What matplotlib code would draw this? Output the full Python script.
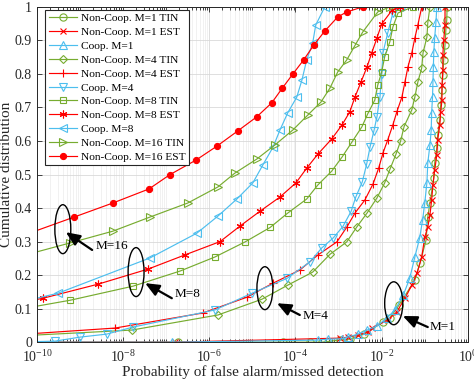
import numpy as np
import matplotlib
matplotlib.use('Agg')
import matplotlib.pyplot as plt
from matplotlib.patches import Ellipse
from matplotlib.ticker import LogLocator, LogFormatterMathtext, NullFormatter

plt.rcParams['font.family'] = ['Liberation Serif', 'DejaVu Serif']
plt.rcParams['mathtext.fontset'] = 'stix'

# x values are given as log10 exponents, y = cumulative distribution
m1_tin_e = [-10.5, -6.73, -4.29, -3.67, -3.39, -2.97, -2.74, -2.40, -1.97, -1.81, -1.60, -1.23, -1.11, -0.97,
            -0.93, -0.88, -0.84, -0.79, -0.77, -0.72, -0.70, -0.65, -0.63, -0.60, -0.58, -0.56, -0.53, -0.51,
            -0.49, -0.48]
m1_tin_y = [0.0, 0.0, 0.0, 0.0, 0.0, 0.006, 0.009, 0.024, 0.06, 0.072, 0.11, 0.185, 0.236, 0.304,
            0.373, 0.415, 0.448, 0.49, 0.534, 0.579, 0.618, 0.663, 0.707, 0.752, 0.797, 0.842, 0.887, 0.931,
            0.96, 1.0]

m1_est_e = [-10.5, -6.80, -2.97, -2.78, -2.55, -2.32, -2.23, -1.86, -1.65, -1.46, -1.30, -1.18, -1.07, -1.00,
            -0.93, -0.88, -0.84, -0.81, -0.77, -0.72, -0.70, -0.65, -0.63, -0.60, -0.60, -0.58, -0.58, -0.56,
            -0.53, -0.53]
m1_est_y = [0.0, 0.0, 0.012, 0.015, 0.021, 0.03, 0.042, 0.066, 0.09, 0.131, 0.17, 0.206, 0.254, 0.313,
            0.343, 0.379, 0.424, 0.469, 0.513, 0.558, 0.603, 0.648, 0.687, 0.722, 0.767, 0.812, 0.857, 0.90,
            0.946, 1.0]

coop_m1_e = [-10.5, -6.87, -3.48, -3.25, -2.92, -2.78, -2.55, -2.34, -2.11, -1.88, -1.69, -1.50, -1.35, -1.23,
             -1.12, -1.05, -1.00, -0.95, -0.93, -0.88, -0.85, -0.84, -0.82, -0.81, -0.80, -0.79, -0.77, -0.74,
             -0.72]
coop_m1_y = [0.0, 0.0, 0.006, 0.009, 0.01, 0.015, 0.024, 0.036, 0.048, 0.072, 0.096, 0.14, 0.19, 0.254,
             0.31, 0.364, 0.415, 0.475, 0.534, 0.588, 0.633, 0.684, 0.731, 0.776, 0.821, 0.866, 0.907, 0.955,
             1.0]

m4_tin_e = [-10.5, -7.80, -5.80, -4.78, -4.18, -3.60, -3.20, -2.81, -2.58, -2.34, -2.11, -1.93, -1.81, -1.67,
            -1.56, -1.48, -1.30, -1.23, -1.16, -1.07, -1.04, -0.95, -0.93, -0.88]
m4_tin_y = [0.018, 0.036, 0.081, 0.128, 0.170, 0.209, 0.262, 0.299, 0.343, 0.385, 0.43, 0.475, 0.515, 0.56,
            0.60, 0.643, 0.693, 0.731, 0.776, 0.818, 0.863, 0.91, 0.952, 1.0]

m4_est_e = [-10.5, -8.19, -6.15, -5.13, -4.52, -3.90, -3.48, -3.04, -2.81, -2.62, -2.39, -2.20, -2.07, -1.97,
            -1.86, -1.74, -1.64, -1.53, -1.46, -1.39, -1.30, -1.23, -1.16, -1.07]
m4_est_y = [0.022, 0.042, 0.087, 0.134, 0.176, 0.215, 0.26, 0.299, 0.343, 0.385, 0.424, 0.472, 0.519, 0.564,
            0.603, 0.648, 0.69, 0.731, 0.776, 0.821, 0.863, 0.907, 0.946, 1.0]

coop_m4_e = [-10.5, -9.58, -9.00, -8.38, -7.77, -5.87, -5.01, -4.20, -3.67, -3.39, -3.13, -2.90, -2.71, -2.60,
             -2.45, -2.35, -2.27, -2.18, -2.11, -2.04, -2.00, -1.97, -1.86, -1.74, -1.51]
coop_m4_y = [0.0, 0.003, 0.015, 0.024, 0.045, 0.096, 0.146, 0.19, 0.239, 0.281, 0.31, 0.345, 0.39, 0.433,
             0.478, 0.53, 0.582, 0.63, 0.672, 0.731, 0.80, 0.863, 0.922, 0.982, 1.0]

m8_tin_e = [-10.5, -9.23, -7.77, -6.68, -5.87, -5.17, -4.59, -4.18, -3.74, -3.48, -3.16, -2.92, -2.69, -2.46,
            -2.32, -2.16, -2.09, -2.00, -1.93, -1.81, -1.74, -1.62, -1.28]
m8_tin_y = [0.096, 0.125, 0.167, 0.212, 0.254, 0.299, 0.342, 0.385, 0.427, 0.469, 0.51, 0.552, 0.597, 0.642,
            0.682, 0.722, 0.767, 0.806, 0.851, 0.896, 0.94, 0.982, 1.0]

m8_est_e = [-10.5, -9.86, -8.58, -7.42, -6.57, -5.75, -5.29, -4.83, -4.36, -3.99, -3.74, -3.48, -3.16, -2.92,
            -2.74, -2.62, -2.48, -2.34, -2.23, -2.11, -2.00, -1.76, -1.58]
m8_est_y = [0.115, 0.131, 0.173, 0.218, 0.26, 0.30, 0.346, 0.39, 0.433, 0.475, 0.519, 0.561, 0.606, 0.648,
            0.687, 0.731, 0.776, 0.821, 0.863, 0.907, 0.949, 0.99, 1.0]

coop_m8_e = [-10.5, -9.51, -7.38, -6.29, -5.80, -5.36, -4.99, -4.76, -4.52, -4.36, -4.18, -3.97, -3.85, -3.74,
             -3.60, -3.53, -3.32]
coop_m8_y = [0.116, 0.146, 0.251, 0.325, 0.376, 0.427, 0.475, 0.528, 0.582, 0.633, 0.684, 0.731, 0.782, 0.842,
             0.893, 0.946, 1.0]

m16_tin_e = [-10.5, -9.23, -8.24, -7.38, -6.50, -5.80, -5.41, -4.90, -4.48, -4.06, -3.71, -3.41, -3.20, -3.02,
             -2.81, -2.62, -2.44, -2.09, -1.81]
m16_tin_y = [0.252, 0.296, 0.331, 0.373, 0.415, 0.463, 0.504, 0.546, 0.588, 0.633, 0.678, 0.716, 0.758, 0.806,
             0.842, 0.885, 0.925, 0.985, 1.0]

m16_est_e = [-10.5, -9.14, -8.24, -7.40, -6.91, -6.31, -5.82, -5.34, -4.90, -4.55, -4.31, -4.06, -3.81, -3.57,
             -3.32, -3.02, -2.81, -2.44]
m16_est_y = [0.31, 0.373, 0.415, 0.457, 0.50, 0.543, 0.585, 0.63, 0.672, 0.714, 0.757, 0.80, 0.842, 0.887,
             0.928, 0.97, 0.985, 1.0]

y_ticks = [0, 0.1, 0.2, 0.3, 0.4, 0.5, 0.6, 0.7, 0.8, 0.9, 1]
y_tick_labels = ['0', '0.1', '0.2', '0.3', '0.4', '0.5', '0.6', '0.7', '0.8', '0.9', '1']

green = '#77AC30'
red = '#FF0000'
blue = '#4DBEEE'
asterisk = (6, 2, 0)

series = [
    ('Non-Coop. M=1 TIN', m1_tin_e, m1_tin_y, green, 'o', False, 5.2),
    ('Non-Coop. M=1 EST', m1_est_e, m1_est_y, red, 'x', True, 4.5),
    ('Coop. M=1', coop_m1_e, coop_m1_y, blue, '^', False, 5.2),
    ('Non-Coop. M=4 TIN', m4_tin_e, m4_tin_y, green, 'D', False, 4.3),
    ('Non-Coop. M=4 EST', m4_est_e, m4_est_y, red, '+', True, 6),
    ('Coop. M=4', coop_m4_e, coop_m4_y, blue, 'v', False, 5.2),
    ('Non-Coop. M=8 TIN', m8_tin_e, m8_tin_y, green, 's', False, 4.6),
    ('Non-Coop. M=8 EST', m8_est_e, m8_est_y, red, asterisk, True, 5.6),
    ('Coop. M=8', coop_m8_e, coop_m8_y, blue, '<', False, 5.2),
    ('Non-Coop. M=16 TIN', m16_tin_e, m16_tin_y, green, '>', False, 5.2),
    ('Non-Coop. M=16 EST', m16_est_e, m16_est_y, red, 'o', True, 4.4),
]

fig = plt.figure(figsize=(4.74, 3.84), dpi=100)
ax = fig.add_axes([0.078, 0.109, 0.909, 0.873])

for name, e, y, c, mk, filled, ms in series:
    x = 10.0 ** np.array(e)
    ax.plot(x, y, color=c, lw=0.85, marker=mk, ms=ms, mew=0.8,
            mfc=c if filled else 'none', mec=c, label=name)

ax.set_xscale('log')
ax.set_xticks([1e-10, 1e-8, 1e-6, 1e-4, 1e-2, 1])
ax.xaxis.set_major_formatter(LogFormatterMathtext())
ax.xaxis.set_minor_locator(LogLocator(base=10, subs=np.arange(1, 10), numticks=100))
ax.xaxis.set_minor_formatter(NullFormatter())
ax.set_yticks(y_ticks)
ax.set_yticklabels(y_tick_labels)
ax.set_xlim(1e-10, 1)
ax.set_ylim(0, 1)

ax.grid(True, which='major', color='#d9d9d9', lw=0.6)
ax.grid(True, which='minor', axis='x', color='#ebebeb', lw=0.5)
ax.set_axisbelow(True)
ax.tick_params(which='both', direction='in', top=True, right=True, colors='#262626',
               labelsize=10, length=3.5, width=0.6)
ax.tick_params(axis='x', which='major', pad=5)
ax.tick_params(which='minor', length=2)
for s in ax.spines.values():
    s.set_color('#262626')
    s.set_linewidth(0.7)

ax.set_xlabel('Probability of false alarm/missed detection', fontsize=11, color='#262626', labelpad=0)
ax.set_ylabel('Cumulative distribution', fontsize=11, color='#262626', labelpad=1)

leg = ax.legend(loc='upper left', bbox_to_anchor=(0.019, 0.991), borderaxespad=0, fontsize=8.2,
                labelspacing=0.34, handlelength=2.5, handletextpad=0.35, borderpad=0.3,
                fancybox=False, framealpha=1, edgecolor='#262626')
leg.get_frame().set_linewidth(0.8)

# group markers: ellipse centre (log10 x, y), size in axes fraction, arrow head, arrow tail, text anchor
groups = [
    ('M=16', (-9.40, 0.337), 0.037, 0.146, (-9.33, 0.328), (-8.72, 0.275), (-8.65, 0.287)),
    ('M=8', (-7.70, 0.209), 0.037, 0.146, (-7.49, 0.176), (-6.87, 0.131), (-6.80, 0.143)),
    ('M=4', (-4.71, 0.161), 0.037, 0.128, (-4.43, 0.116), (-3.90, 0.081), (-3.83, 0.078)),
    ('M=1', (-1.72, 0.116), 0.042, 0.128, (-1.51, 0.078), (-0.93, 0.045), (-0.88, 0.045)),
]
for lab, (ce, cy), w, h, head, tail, txt in groups:
    ax.add_patch(Ellipse(((ce + 10) / 10, cy), w, h, transform=ax.transAxes,
                         fill=False, ec='k', lw=1, zorder=6))
    ax.annotate('', xy=(10 ** head[0], head[1]), xytext=(10 ** tail[0], tail[1]),
                arrowprops=dict(arrowstyle='-|>,head_length=0.7,head_width=0.3', color='k',
                                lw=1.6, shrinkA=0, shrinkB=0, mutation_scale=12), zorder=6)
    ax.text(10 ** txt[0], txt[1], lab, fontsize=9.5, ha='left', va='center', zorder=6)

fig.savefig('out.png', dpi=100)
